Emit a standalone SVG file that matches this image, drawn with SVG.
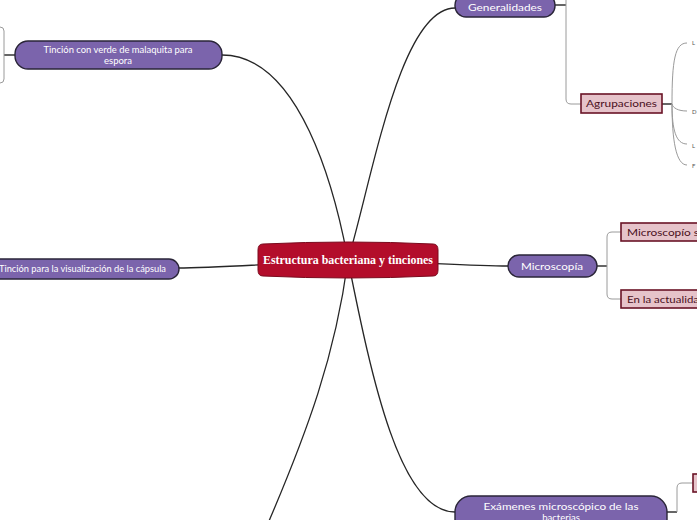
<svg xmlns="http://www.w3.org/2000/svg" width="697" height="520" viewBox="0 0 697 520">
<style>
.main{fill:none;stroke:#262626;stroke-width:1.3}
.sub{fill:none;stroke:#9a9a9a;stroke-width:1}
.stub{fill:none;stroke:#333;stroke-width:1.5}
.pill{fill:#7b64ac;stroke:#2a2538;stroke-width:1.4}
.pink{fill:#e6c3ca;stroke:#6a1326;stroke-width:1.6}
.pt{font-family:"Lato","Noto Sans",sans-serif;font-size:9.5px;fill:#ffffff;text-anchor:middle}
.kt{font-family:"Lato","Noto Sans",sans-serif;font-size:10px;fill:#4a0f1c}
.tiny{font-family:"Lato","Noto Sans",sans-serif;font-size:6px;fill:#555}
</style>
<rect width="697" height="520" fill="#ffffff"/>
<g id="connectors">
<path class="main" d="M348,260 C 335,190 300,55 222,55"/>
<path class="main" d="M348,260 C 372,180 400,8 455,8"/>
<path class="main" d="M348,260 C 300,262 220,268 178,268"/>
<path class="main" d="M348,260 C 420,262 470,266 508,266"/>
<path class="main" d="M348,260 C 372,380 400,512 455,512"/>
<path class="main" d="M348,260 C 336,350 312,425 252,560"/>
<path class="stub" d="M15,55 H4"/>
<path class="sub" d="M0,27 Q4,27 4,31 V79 Q4,83 0,83"/>
<path class="stub" d="M555,5 H566"/>
<path class="sub" d="M566,-10 V99 Q566,104 571,104 H581"/>
<path class="stub" d="M662,104 H672"/>
<path class="sub" d="M672,104 C 672,60 675,43 687,43"/>
<path class="sub" d="M672,104 C 673,108 678,111 687,111"/>
<path class="sub" d="M672,104 C 672,130 676,144 687,144"/>
<path class="sub" d="M672,104 C 672,140 676,165 687,165"/>
<path class="stub" d="M597,266 H607"/>
<path class="sub" d="M621,232 H612 Q607,232 607,237 V294 Q607,299 612,299 H621"/>
<path class="stub" d="M667,512 H677"/>
<path class="sub" d="M677,512 V488 Q677,483 682,483 H693"/>
</g>
<g id="node-verde">
<rect class="pill" x="15" y="41" width="207" height="28" rx="13"/>
<text class="pt" x="118" y="53" font-size="8.5" textLength="149" lengthAdjust="spacingAndGlyphs">Tinción con verde de malaquita para</text>
<text class="pt" x="118" y="63.5" font-size="8.5">espora</text>
</g>
<g id="node-capsula">
<rect class="pill" x="-12" y="259" width="191" height="20" rx="10"/>
<text class="pt" x="-1" y="271.5" style="text-anchor:start" textLength="167" lengthAdjust="spacingAndGlyphs">Tinción para la visualización de la cápsula</text>
</g>
<g id="node-generalidades">
<rect class="pill" x="455" y="-6" width="100" height="23" rx="11"/>
<text class="pt" x="505" y="10.5" font-size="10.5" textLength="74" lengthAdjust="spacingAndGlyphs">Generalidades</text>
</g>
<g id="node-agrupaciones">
<rect class="pink" x="581" y="94" width="81" height="19"/>
<text class="kt" x="586" y="107" textLength="71" lengthAdjust="spacingAndGlyphs">Agrupaciones</text>
</g>
<g id="node-agr-children">
<text class="tiny" x="692" y="45">L</text>
<text class="tiny" x="692" y="114">D</text>
<text class="tiny" x="692" y="148">L</text>
<text class="tiny" x="692" y="168">F</text>
</g>
<g id="node-microscopia">
<rect class="pill" x="508" y="255" width="89" height="22" rx="11"/>
<text class="pt" x="552" y="269.5" font-size="10" textLength="62" lengthAdjust="spacingAndGlyphs">Microscopía</text>
</g>
<g id="node-microscopio">
<rect class="pink" x="621" y="223" width="90" height="18"/>
<text class="kt" x="627" y="235.5" textLength="72" lengthAdjust="spacingAndGlyphs">Microscopío s</text>
</g>
<g id="node-actualidad">
<rect class="pink" x="621" y="290" width="90" height="18"/>
<text class="kt" x="627" y="302.5" textLength="72" lengthAdjust="spacingAndGlyphs">En la actualida</text>
</g>
<g id="node-examenes">
<rect class="pill" x="455" y="496" width="212" height="40" rx="16"/>
<text class="pt" x="561" y="510" font-size="10" textLength="155" lengthAdjust="spacingAndGlyphs">Exámenes microscópico de las</text>
<text class="pt" x="561" y="521" font-size="10">bacterias</text>
</g>
<g id="node-examenes-child">
<rect class="pink" x="693" y="474" width="20" height="18"/>
</g>
<g id="node-central">
<path d="M263,244 Q348,240 433,244 Q438,244 438,250 V270 Q438,276 433,276 Q348,280 263,276 Q258,276 258,270 V250 Q258,244 263,244 Z" fill="#b30d2b" stroke="#7a0a1d" stroke-width="1"/>
<text x="348" y="263.5" font-family="'Liberation Serif',serif" font-weight="bold" font-size="12" fill="#ffffff" text-anchor="middle" textLength="170" lengthAdjust="spacingAndGlyphs">Estructura bacteriana y tinciones</text>
</g>
</svg>
